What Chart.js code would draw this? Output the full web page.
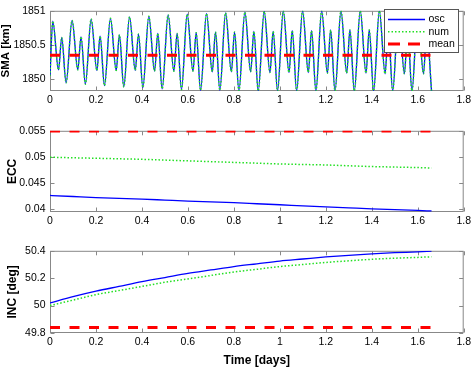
<!DOCTYPE html>
<html>
<head>
<meta charset="utf-8">
<script src="https://cdn.jsdelivr.net/npm/chart.js@4.4.1/dist/chart.umd.min.js"></script>
<style>
  html, body { margin: 0; padding: 0; background: #fff; }
  #wrap { position: relative; width: 474px; height: 368px; overflow: hidden; }
  canvas { position: absolute; left: 0; }
</style>
</head>
<body>
<div id="wrap">
  <canvas id="sma" width="474" height="120" style="top:0"></canvas>
  <canvas id="ecc" width="474" height="120" style="top:120px"></canvas>
  <canvas id="inc" width="474" height="128" style="top:240px"></canvas>
</div>
<script>
// axis ticks
const timeTickValues = [0, 0.2, 0.4, 0.6, 0.8, 1, 1.2, 1.4, 1.6, 1.8];
const timeTickLabels = ['0', '0.2', '0.4', '0.6', '0.8', '1', '1.2', '1.4', '1.6', '1.8'];
const smaTickValues = [1850, 1850.5, 1851];
const smaTickLabels = ['1850', '1850.5', '1851'];
const eccTickValues = [0.04, 0.045, 0.05, 0.055];
const eccTickLabels = ['0.04', '0.045', '0.05', '0.055'];
const incTickValues = [49.8, 50, 50.2, 50.4];
const incTickLabels = ['49.8', '50', '50.2', '50.4'];

const seriesLabels = ['osc', 'num', 'mean'];

// SMA turning points: big peak, shallow dip, small peak, deep dip (per orbit)
const smaTime = [
  0,
  0.012, 0.037, 0.051, 0.070,
  0.096, 0.121, 0.135, 0.154,
  0.179, 0.204, 0.218, 0.237,
  0.263, 0.288, 0.302, 0.321,
  0.346, 0.371, 0.385, 0.404,
  0.430, 0.455, 0.469, 0.488,
  0.514, 0.539, 0.553, 0.572,
  0.597, 0.622, 0.636, 0.655,
  0.681, 0.706, 0.720, 0.739,
  0.764, 0.789, 0.803, 0.822,
  0.848, 0.873, 0.887, 0.906,
  0.932, 0.957, 0.971, 0.990,
  1.015, 1.040, 1.054, 1.073,
  1.099, 1.124, 1.138, 1.157,
  1.182, 1.207, 1.221, 1.240,
  1.266, 1.291, 1.305, 1.324,
  1.350, 1.375, 1.389, 1.408,
  1.433, 1.458, 1.472, 1.491,
  1.517, 1.542, 1.556, 1.575,
  1.600, 1.625, 1.639, 1.660
];
const smaOsc = [
  1850.05,
  1850.85, 1850.14, 1850.61, 1849.95,
  1850.86, 1850.14, 1850.62, 1849.93,
  1850.88, 1850.13, 1850.63, 1849.91,
  1850.89, 1850.13, 1850.65, 1849.89,
  1850.91, 1850.13, 1850.66, 1849.88,
  1850.92, 1850.12, 1850.67, 1849.86,
  1850.94, 1850.12, 1850.67, 1849.85,
  1850.95, 1850.12, 1850.68, 1849.84,
  1850.96, 1850.11, 1850.69, 1849.84,
  1850.97, 1850.11, 1850.69, 1849.83,
  1850.98, 1850.11, 1850.70, 1849.83,
  1850.99, 1850.10, 1850.70, 1849.83,
  1851.00, 1850.10, 1850.71, 1849.83,
  1851.00, 1850.10, 1850.71, 1849.83,
  1851.00, 1850.09, 1850.72, 1849.83,
  1851.00, 1850.09, 1850.72, 1849.83,
  1851.00, 1850.09, 1850.72, 1849.83,
  1851.00, 1850.08, 1850.73, 1849.83,
  1851.00, 1850.08, 1850.73, 1849.83,
  1851.00, 1850.08, 1850.73, 1849.83
];
// num lies on top of osc at this scale
const smaNum = smaOsc;
const smaMean = 1850.35;

const elemTime = [0, 0.1, 0.2, 0.3, 0.4, 0.5, 0.6, 0.7, 0.8, 0.9, 1.0, 1.1, 1.2, 1.3, 1.4, 1.5, 1.6, 1.66];
const eccOsc = [0.0426, 0.0424, 0.0422, 0.04205, 0.0419, 0.0417, 0.0415, 0.04135, 0.0412,
                0.0410, 0.0408, 0.0406, 0.0404, 0.0402, 0.0400, 0.03985, 0.0397, 0.0396];
const eccNum = [0.0500, 0.0499, 0.0498, 0.0497, 0.0496, 0.04945, 0.0493, 0.04915, 0.0490,
                0.04885, 0.0487, 0.0486, 0.0485, 0.04835, 0.0482, 0.0481, 0.0480, 0.0479];
const eccMean = 0.0551;
const incOsc = [50.02, 50.065, 50.105, 50.14, 50.175, 50.205, 50.235, 50.26, 50.285,
                50.305, 50.325, 50.34, 50.355, 50.367, 50.378, 50.386, 50.392, 50.397];
const incNum = [50.00, 50.04, 50.08, 50.11, 50.14, 50.17, 50.195, 50.22, 50.245,
                50.265, 50.285, 50.30, 50.315, 50.327, 50.338, 50.346, 50.352, 50.356];
const incMean = 49.84;
const meanSpan = [0, 1.66];

const FAMILY = '"Liberation Sans", Arial, sans-serif';
const tickFont = { family: FAMILY, size: 10.5 };
const titleFont = { family: FAMILY, size: 12, weight: 'bold' };
const AXIS = '#888';

const pts = (xs, ys) => xs.map((x, i) => ({ x: x, y: ys[i] }));

// matlab style box with inward ticks on all four sides
const matlabBox = {
  id: 'matlabBox',
  beforeDatasetsDraw(chart) {
    const { ctx, chartArea: a, scales: { x, y } } = chart;
    const l = a.left + 0.5, r = a.right - 0.5, t = a.top + 0.5, b = a.bottom - 0.5;
    ctx.save();
    ctx.strokeStyle = AXIS;
    ctx.lineWidth = 1;
    ctx.strokeRect(l, t, r - l, b - t);
    ctx.beginPath();
    x.ticks.forEach(tk => {
      const px = Math.round(x.getPixelForValue(tk.value)) + 0.5;
      ctx.moveTo(px, b); ctx.lineTo(px, b - 4);
      ctx.moveTo(px, t); ctx.lineTo(px, t + 4);
    });
    y.ticks.forEach(tk => {
      const py = Math.round(y.getPixelForValue(tk.value)) + 0.5;
      ctx.moveTo(l, py); ctx.lineTo(l + 4, py);
      ctx.moveTo(r, py); ctx.lineTo(r - 4, py);
    });
    ctx.stroke();
    ctx.restore();
  }
};

const legendBox = {
  id: 'legendBox',
  afterDatasetsDraw(chart, args, opts) {
    if (!opts.show) return;
    const ctx = chart.ctx;
    ctx.save();
    ctx.fillStyle = '#fff';
    ctx.fillRect(384.5, 9.5, 74, 43);
    ctx.strokeStyle = '#555';
    ctx.lineWidth = 1;
    ctx.strokeRect(384.5, 9.5, 74, 43);
    chart.data.datasets.forEach((ds, i) => {
      const y = 19.5 + i * 12.3;
      ctx.beginPath();
      ctx.setLineDash(ds.legendDash || []);
      ctx.lineWidth = ds.borderWidth;
      ctx.strokeStyle = ds.borderColor;
      ctx.moveTo(388, y);
      ctx.lineTo(425, y);
      ctx.stroke();
      ctx.setLineDash([]);
      ctx.fillStyle = '#000';
      ctx.font = '10.5px ' + FAMILY;
      ctx.textBaseline = 'middle';
      ctx.fillText(ds.label, 428.5, y);
    });
    ctx.restore();
  }
};

function makePanel(id, cfg) {
  return new Chart(document.getElementById(id), {
    type: 'line',
    data: {
      datasets: [
        { label: seriesLabels[0], data: pts(cfg.time, cfg.osc), borderColor: '#0000ff', borderWidth: 1.3, order: 2 },
        { label: seriesLabels[1], data: pts(cfg.time, cfg.num), borderColor: '#22e022', borderWidth: 1.5,
          borderDash: [1.5, 2], legendDash: [1.5, 2], order: 1 },
        { label: seriesLabels[2], data: pts(meanSpan, [cfg.mean, cfg.mean]), borderColor: '#ff0000', borderWidth: 3,
          borderDash: [10, 9.5], legendDash: [12, 8], order: 0 }
      ]
    },
    options: {
      responsive: false,
      animation: false,
      events: [],
      layout: { padding: { top: cfg.padTop, right: 7, left: 0, bottom: 0 } },
      elements: { point: { radius: 0 }, line: { cubicInterpolationMode: 'monotone' } },
      plugins: {
        legend: { display: false },
        tooltip: { enabled: false },
        legendBox: { show: cfg.legend }
      },
      scales: {
        x: {
          type: 'linear', min: 0, max: 1.8,
          grid: { display: false, drawTicks: false },
          border: { display: false },
          afterBuildTicks: s => { s.ticks = timeTickValues.map(v => ({ value: v })); },
          ticks: { padding: 3, color: '#000', font: tickFont, maxRotation: 0, autoSkip: false,
                   callback: (v, i) => timeTickLabels[i] },
          title: { display: !!cfg.xTitle, text: cfg.xTitle || '', color: '#000', font: titleFont,
                   padding: { top: 0, bottom: 0 } },
          afterFit: s => { s.height = cfg.xHeight; }
        },
        y: {
          type: 'linear', min: cfg.yMin, max: cfg.yMax,
          grid: { display: false, drawTicks: false },
          border: { display: false },
          afterBuildTicks: s => { s.ticks = cfg.yTicks.map(v => ({ value: v })); },
          ticks: { padding: 4.5, color: '#000', font: tickFont, autoSkip: false,
                   callback: (v, i) => cfg.yLabels[i] },
          title: { display: true, text: cfg.yTitle, color: '#000', font: cfg.titleFont || titleFont,
                   padding: { top: cfg.titlePad, bottom: 0 } },
          afterFit: s => { s.width = 50; }
        }
      }
    },
    plugins: [matlabBox, legendBox]
  });
}

makePanel('sma', {
  time: smaTime, osc: smaOsc, num: smaNum, mean: smaMean,
  yMin: 1849.83, yMax: 1851, yTicks: smaTickValues, yLabels: smaTickLabels,
  yTitle: 'SMA [km]', titlePad: -1.5, padTop: 5, xHeight: 29, legend: true,
  titleFont: { family: FAMILY, size: 11.5, weight: 'bold' }
});
makePanel('ecc', {
  time: elemTime, osc: eccOsc, num: eccNum, mean: eccMean,
  yMin: 0.0394, yMax: 0.05512, yTicks: eccTickValues, yLabels: eccTickLabels,
  yTitle: 'ECC', titlePad: 5, padTop: 5, xHeight: 28, legend: false
});
makePanel('inc', {
  time: elemTime, osc: incOsc, num: incNum, mean: incMean,
  yMin: 49.8, yMax: 50.4, yTicks: incTickValues, yLabels: incTickLabels,
  yTitle: 'INC [deg]', titlePad: 5, padTop: 6, xHeight: 35, xTitle: 'Time [days]', legend: false
});
</script>
</body>
</html>
